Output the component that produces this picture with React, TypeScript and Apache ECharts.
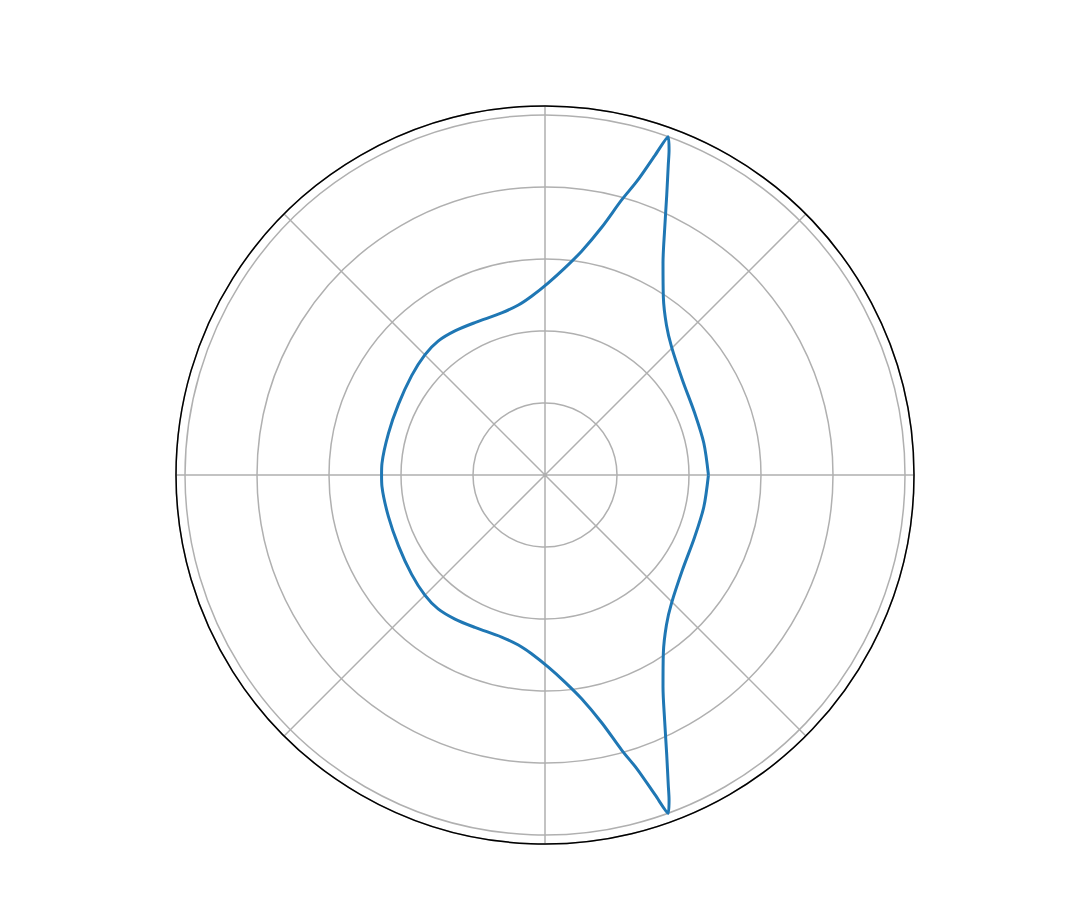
import React, { useEffect, useRef } from "react";
import * as echarts from "echarts";

// Angles in degrees (0 = right, counter-clockwise) and radii in grid units
const thetaDeg: number[] = [
  0, 11.4, 22.5, 34.6, 45.3, 51.0, 56.4, 60.9, 64.0, 66.5, 68.3, 69.1, 70.0, 71.0, 72.6, 74.4,
  77.1, 80.7, 84.5, 89.0, 94.3, 98.9, 105.0, 114.7, 122.0, 128.6, 135.0, 143.3, 154.2, 165.1,
  175.9, 180,
  184.1, 194.9, 205.8, 216.7, 225, 231.4, 238, 245.3, 255, 261.1, 265.7, 271, 275.5, 279.3,
  282.9, 285.6, 287.4, 289, 290, 290.9, 291.7, 293.5, 296, 299.1, 303.6, 309, 314.7, 325.4,
  337.5, 348.6, 360,
];
const radius: number[] = [
  2.27, 2.25, 2.25, 2.32, 2.5, 2.68, 2.97, 3.37, 3.79, 4.24, 4.63, 4.83, 5.0, 4.7, 4.28, 3.97,
  3.53, 3.15, 2.89, 2.67, 2.49, 2.39, 2.33, 2.33, 2.36, 2.38, 2.36, 2.31, 2.26, 2.25,
  2.27, 2.27,
  2.27, 2.25, 2.26, 2.31, 2.36, 2.38, 2.36, 2.33, 2.33, 2.39, 2.49, 2.67, 2.89, 3.15,
  3.53, 3.97, 4.28, 4.7, 5.0, 4.83, 4.63, 4.24, 3.79, 3.37, 2.97, 2.68, 2.5, 2.32,
  2.25, 2.25, 2.27,
];
const radialTicks: number[] = [0, 1, 2, 3, 4, 5];
const radiusMax = 5.125;

export default function App() {
  const ref = useRef<HTMLDivElement>(null);
  useEffect(() => {
    if (!ref.current) return;
    const chart = echarts.init(ref.current, undefined, { renderer: "svg" });
    const data = thetaDeg.map((t, i) => [radius[i], t]);
    chart.setOption({
      animation: false,
      backgroundColor: "#ffffff",
      polar: { center: [545, 475], radius: 369 },
      angleAxis: {
        type: "value",
        min: 0,
        max: 360,
        interval: 45,
        startAngle: 0,
        clockwise: false,
        axisLine: { show: true, lineStyle: { color: "#000000", width: 1.5 } },
        axisTick: { show: false },
        axisLabel: { show: false },
        splitLine: { show: true, lineStyle: { color: "#b0b0b0", width: 1.5 } },
        z: 3,
      },
      radiusAxis: {
        type: "value",
        min: radialTicks[0],
        max: radiusMax,
        interval: radialTicks[1] - radialTicks[0],
        axisLine: { show: false },
        axisTick: { show: false },
        axisLabel: { show: false },
        splitLine: { show: true, lineStyle: { color: "#b0b0b0", width: 1.5 } },
        z: 1,
      },
      series: [
        {
          type: "line",
          coordinateSystem: "polar",
          data,
          showSymbol: false,
          smooth: 0.3,
          lineStyle: { color: "#1f77b4", width: 3 },
          z: 5,
        },
      ],
    });
    return () => chart.dispose();
  }, []);
  return (
    <div
      ref={ref}
      style={{ position: "absolute", left: 0, top: 0, width: 1080, height: 905 }}
    />
  );
}
